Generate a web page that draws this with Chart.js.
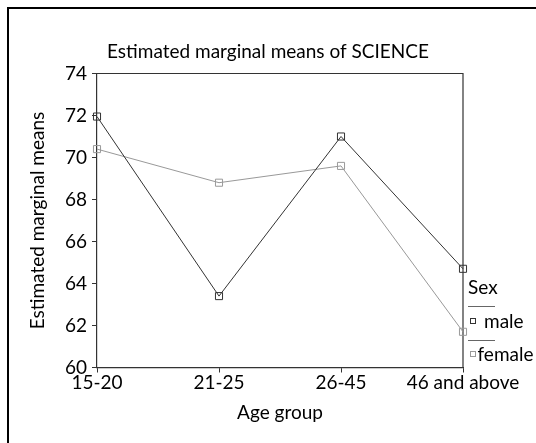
<!DOCTYPE html>
<html>
<head>
<meta charset="utf-8">
<title>Estimated marginal means of SCIENCE</title>
<script src="https://cdn.jsdelivr.net/npm/chart.js@4.4.0/dist/chart.umd.min.js"></script>
<style>
  html, body { margin: 0; padding: 0; background: #fff; }
  #wrap { width: 536px; height: 443px; }
</style>
</head>
<body>
<div id="wrap"><canvas id="emm" width="536" height="443"></canvas></div>
<script>
// data
const ageGroups = ['15-20', '21-25', '26-45', '46 and above'];
const maleMeans = [71.95, 63.4, 71.0, 64.7];
const femaleMeans = [70.4, 68.8, 69.6, 61.7];
const yTicks = [60, 62, 64, 66, 68, 70, 72, 74];
const seriesNames = ['male', 'female'];
const seriesColors = ['#333333', '#999999'];

const FONT = 'Lato, "DejaVu Sans", sans-serif';
Chart.defaults.font.family = FONT;
Chart.defaults.font.size = 19;
Chart.defaults.color = '#000';

// outer page frame (left + top only, like the export)
const pageFrame = {
  id: 'pageFrame',
  beforeDraw(chart) {
    const ctx = chart.ctx;
    ctx.save();
    ctx.fillStyle = '#fff';
    ctx.fillRect(0, 0, chart.width, chart.height);
    ctx.fillStyle = '#000';
    ctx.fillRect(7, 7, 2, chart.height - 7);
    ctx.fillRect(7, 7, chart.width - 7, 2);
    ctx.restore();
  },
  beforeDatasetsDraw(chart) {
    // top and right edges of the plot box
    const ctx = chart.ctx;
    const a = chart.chartArea;
    ctx.save();
    ctx.strokeStyle = '#333';
    ctx.lineWidth = 1.2;
    ctx.beginPath();
    ctx.moveTo(a.left, a.top);
    ctx.lineTo(a.right, a.top);
    ctx.lineTo(a.right, a.bottom);
    ctx.stroke();
    ctx.restore();
  }
};

// legend box on the right: "Sex", rule, marker + name for each series
const sexLegend = {
  id: 'sexLegend',
  beforeInit(chart) {
    const box = {
      position: 'right',
      weight: 0,
      fullSize: false,
      options: {},
      width: 0, height: 0, left: 0, top: 0, right: 0, bottom: 0,
      isHorizontal() { return false; },
      update(maxWidth, maxHeight) {
        this.width = 73;
        this.height = maxHeight;
      },
      draw() {
        const ctx = chart.ctx;
        const x0 = this.left + 5;
        ctx.save();
        ctx.font = '19px ' + FONT;
        ctx.fillStyle = '#000';
        ctx.textBaseline = 'middle';
        ctx.textAlign = 'left';
        ctx.fillText('Sex', x0, 288);
        const rows = [{rule: 306, y: 321, tx: x0 + 16}, {rule: 340, y: 354, tx: x0 + 9.5}];
        chart.data.datasets.forEach((ds, i) => {
          const r = rows[i];
          ctx.strokeStyle = '#666';
          ctx.lineWidth = 1;
          ctx.beginPath();
          ctx.moveTo(x0, r.rule + 0.5);
          ctx.lineTo(x0 + 27, r.rule + 0.5);
          ctx.stroke();
          ctx.strokeStyle = ds.borderColor;
          ctx.strokeRect(x0 + 2.5, r.y - 2.5, 5, 5);
          ctx.fillStyle = '#000';
          ctx.fillText(ds.label, r.tx, r.y + 1);
        });
        ctx.restore();
      }
    };
    Chart.layouts.addBox(chart, box);
  }
};

const datasets = [maleMeans, femaleMeans].map((vals, i) => ({
  label: seriesNames[i],
  data: vals,
  borderColor: seriesColors[i],
  borderWidth: 1,
  pointStyle: 'rect',
  pointRadius: 5,
  pointBorderWidth: 1,
  pointBorderColor: seriesColors[i],
  pointBackgroundColor: 'rgba(0,0,0,0)',
  tension: 0,
  clip: false
}));

new Chart(document.getElementById('emm'), {
  type: 'line',
  data: { labels: ageGroups, datasets: datasets },
  options: {
    responsive: false,
    animation: false,
    events: [],
    layout: { padding: { left: 0, right: 0, top: 0, bottom: 0 } },
    plugins: {
      legend: { display: false },
      tooltip: { enabled: false },
      title: {
        display: true,
        text: 'Estimated marginal means of SCIENCE',
        font: { size: 19, weight: 'normal' },
        color: '#000',
        padding: { top: 40.4, bottom: 10.3 }
      }
    },
    scales: {
      x: {
        type: 'category',
        offset: false,
        grid: { drawOnChartArea: false, drawTicks: true, tickLength: 5, color: '#333' },
        border: { color: '#333', width: 1.2 },
        ticks: { padding: -1, maxRotation: 0, autoSkip: false, color: '#000' },
        title: { display: true, text: 'Age group', padding: { top: 0, bottom: 18.3 }, color: '#000' },
        afterFit(scale) { scale.height = 75.5; }
      },
      y: {
        min: 60,
        max: 74,
        afterBuildTicks(scale) { scale.ticks = yTicks.map(v => ({ value: v })); },
        grid: { drawOnChartArea: false, drawTicks: true, tickLength: 5, color: '#333' },
        border: { color: '#333', width: 1.2 },
        ticks: { padding: 5, color: '#000' },
        title: { display: true, text: 'Estimated marginal means', padding: { top: 26.9, bottom: 0 }, color: '#000' },
        afterFit(scale) { scale.width = 97; }
      }
    }
  },
  plugins: [pageFrame, sexLegend]
});
</script>
</body>
</html>
